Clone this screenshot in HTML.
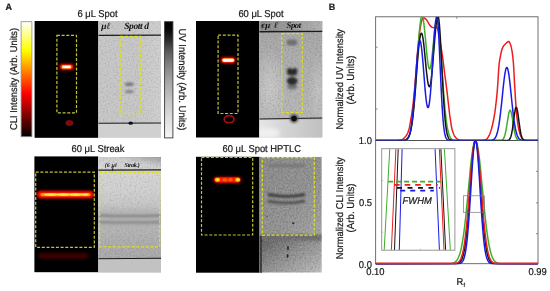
<!DOCTYPE html>
<html><head><meta charset="utf-8">
<style>
html,body{margin:0;padding:0;background:#fff;}
body{width:550px;height:291px;overflow:hidden;}
svg{display:block;}
text{font-family:"Liberation Sans",sans-serif;fill:#1a1a1a;stroke:#1a1a1a;stroke-width:0.22px;text-rendering:geometricPrecision;}
.hw{stroke:none;}
.hw{font-family:"Liberation Serif",serif;font-style:italic;font-weight:bold;fill:#111;}
</style></head>
<body>
<svg width="550" height="291" viewBox="0 0 550 291">
<defs>
  <linearGradient id="hot" x1="0" y1="1" x2="0" y2="0">
    <stop offset="0" stop-color="#000"/>
    <stop offset="0.375" stop-color="#f00"/>
    <stop offset="0.75" stop-color="#ff0"/>
    <stop offset="1" stop-color="#fff"/>
  </linearGradient>
  <linearGradient id="grayc" x1="0" y1="0" x2="0" y2="1">
    <stop offset="0" stop-color="#000"/>
    <stop offset="0.07" stop-color="#080808"/>
    <stop offset="0.17" stop-color="#303030"/>
    <stop offset="0.26" stop-color="#5c5c5c"/>
    <stop offset="0.36" stop-color="#7e7e7e"/>
    <stop offset="0.5" stop-color="#a2a2a2"/>
    <stop offset="0.68" stop-color="#c6c6c6"/>
    <stop offset="0.85" stop-color="#e0e0e0"/>
    <stop offset="1" stop-color="#f6f6f6"/>
  </linearGradient>
  <filter id="b1" x="-50%" y="-50%" width="200%" height="200%"><feGaussianBlur stdDeviation="1"/></filter>
  <filter id="b2" x="-50%" y="-50%" width="200%" height="200%"><feGaussianBlur stdDeviation="2"/></filter>
  <filter id="b08" x="-50%" y="-50%" width="200%" height="200%"><feGaussianBlur stdDeviation="0.8"/></filter>
  <filter id="b05" x="-50%" y="-50%" width="200%" height="200%"><feGaussianBlur stdDeviation="0.5"/></filter>
  <filter id="b04" x="-50%" y="-50%" width="200%" height="200%"><feGaussianBlur stdDeviation="0.4"/></filter>
  <filter id="b03" x="-50%" y="-50%" width="200%" height="200%"><feGaussianBlur stdDeviation="0.3"/></filter>
  <filter id="b07" x="-50%" y="-50%" width="200%" height="200%"><feGaussianBlur stdDeviation="0.7"/></filter>
  <filter id="nd" x="0" y="0" width="100%" height="100%">
    <feTurbulence type="fractalNoise" baseFrequency="0.6" numOctaves="2" seed="3"/>
    <feColorMatrix type="matrix" values="0 0 0 0 0  0 0 0 0 0  0 0 0 0 0  0.9 0 0 0 -0.45"/>
  </filter>
  <filter id="nl" x="0" y="0" width="100%" height="100%">
    <feTurbulence type="fractalNoise" baseFrequency="0.6" numOctaves="2" seed="3"/>
    <feColorMatrix type="matrix" values="0 0 0 0 1  0 0 0 0 1  0 0 0 0 1  -0.9 0 0 0 0.45"/>
  </filter>
  <clipPath id="clipTop"><rect x="375.6" y="16.8" width="162.4" height="123.7"/></clipPath>
  <clipPath id="clipBot"><rect x="375.6" y="140" width="162.4" height="124.5"/></clipPath>
  <clipPath id="cTL"><rect x="98.3" y="21" width="62.7" height="116.8"/></clipPath>
  <clipPath id="cTR"><rect x="259.3" y="21" width="63.2" height="116.5"/></clipPath>
  <clipPath id="cBL"><rect x="98.2" y="157" width="62.8" height="115.5"/></clipPath>
  <clipPath id="cBR"><rect x="259.5" y="156.8" width="62.3" height="115.9"/></clipPath>
</defs>
<rect width="550" height="291" fill="#fff"/>

<!-- ===== Panel labels ===== -->
<text transform="translate(5.6,9.8) scale(1,1.03)" font-size="9" font-weight="bold">A</text>
<text transform="translate(328.8,9.8) scale(1,1.03)" font-size="9" font-weight="bold">B</text>

<!-- ===== Titles ===== -->
<text transform="translate(97.5,16.5) scale(1,1.06)" font-size="9.4" text-anchor="middle">6 μL Spot</text>
<text transform="translate(261,16.5) scale(1,1.06)" font-size="9.4" text-anchor="middle">60 μL Spot</text>
<text transform="translate(98,151.9) scale(1,1.06)" font-size="9.4" text-anchor="middle">60 μL Streak</text>
<text transform="translate(261.8,151.9) scale(1,1.06)" font-size="9.4" text-anchor="middle">60 μL Spot HPTLC</text>

<!-- ===== Colorbars & labels ===== -->
<rect x="21.1" y="21.7" width="10.8" height="115" fill="url(#hot)" stroke="#8a8a8a" stroke-width="0.8"/>
<text transform="translate(17.0,78.9) rotate(-90) scale(1,1.06)" font-size="9.4" text-anchor="middle">CLI Intensity (Arb. Units)</text>
<rect x="164.6" y="21.7" width="8.3" height="116.2" fill="url(#grayc)" stroke="#3a3a3a" stroke-width="0.9"/>
<text transform="translate(178.7,79.4) rotate(90) scale(1,1.06)" font-size="9.5" text-anchor="middle">UV Intensity (Arb. Units)</text>

<!-- ===== TL: CLI image ===== -->
<rect x="34.6" y="21" width="63.7" height="116.8" fill="#000"/>
<rect x="58.7" y="63.3" width="15.8" height="7.3" rx="3.6" fill="#a00000" filter="url(#b1)"/>
<rect x="60.3" y="64.5" width="12.6" height="4.9" rx="2.4" fill="#ff2200" filter="url(#b05)"/>
<rect x="61.7" y="65.3" width="9.7" height="3.3" rx="1.6" fill="#ffe040" filter="url(#b04)"/>
<rect x="62.6" y="66" width="7.9" height="2" rx="1" fill="#fffff0" filter="url(#b03)"/>
<ellipse cx="69.4" cy="123" rx="4" ry="3" fill="#7a0808" filter="url(#b07)"/>
<rect x="56.9" y="35.3" width="19.6" height="77.6" fill="none" stroke="#c4c43a" stroke-width="1.2" stroke-dasharray="3 1.7"/>

<!-- ===== TL: UV photo ===== -->
<defs>
  <linearGradient id="tlg" x1="0" y1="0" x2="1" y2="0">
    <stop offset="0" stop-color="#c6c6c6"/>
    <stop offset="0.6" stop-color="#c6c6c6"/>
    <stop offset="1" stop-color="#cecece"/>
  </linearGradient>
</defs>
<g clip-path="url(#cTL)">
  <rect x="98.3" y="21" width="62.7" height="116.5" fill="url(#tlg)"/>
  <rect x="98.3" y="21" width="62.7" height="116.5" filter="url(#nd)" opacity="0.35"/>
  <rect x="98.3" y="21" width="62.7" height="116.5" filter="url(#nl)" opacity="0.35"/>
  <text class="hw" x="101.2" y="29.4" font-size="9.5">μℓ</text>
  <text class="hw" x="124.2" y="28.6" font-size="9.5" letter-spacing="-0.4">Spott d</text>
  <line x1="98.3" y1="35.4" x2="161" y2="35.2" stroke="#1a1a1a" stroke-width="1.2"/>
  <g filter="url(#b1)">
    <ellipse cx="129.3" cy="84.2" rx="4.6" ry="1.7" fill="#6e6e6e"/>
    <ellipse cx="129.3" cy="91.6" rx="4.6" ry="1.7" fill="#808080"/>
  </g>
  <rect x="98.3" y="123.6" width="62.7" height="14.4" fill="#d0d0d0"/>
  <line x1="98.3" y1="123.3" x2="161" y2="123.0" stroke="#1a1a1a" stroke-width="1.1"/>
  <ellipse cx="130.7" cy="123.2" rx="2.2" ry="1.6" fill="#111" filter="url(#b07)"/>
  <rect x="120.3" y="36.4" width="20" height="77.2" fill="none" stroke="#dede20" stroke-width="1.2" stroke-dasharray="3 1.7"/>
</g>

<!-- ===== TR: CLI image ===== -->
<rect x="196" y="21" width="63.3" height="116.5" fill="#000"/>
<rect x="220.2" y="56.6" width="16" height="7.2" rx="3.6" fill="#a00000" filter="url(#b1)"/>
<rect x="221.5" y="57.7" width="13.4" height="5" rx="2.5" fill="#ff2200" filter="url(#b05)"/>
<rect x="222.3" y="58.4" width="11.8" height="3.5" rx="1.7" fill="#ffe860" filter="url(#b04)"/>
<rect x="223" y="59" width="10.4" height="2.3" rx="1.1" fill="#ffffff" filter="url(#b03)"/>
<ellipse cx="229.1" cy="119.2" rx="4.9" ry="3.5" fill="none" stroke="#a80c0c" stroke-width="1.8" filter="url(#b05)"/>
<rect x="218.1" y="35.2" width="19.9" height="78.3" fill="none" stroke="#c4c43a" stroke-width="1.2" stroke-dasharray="3 1.7"/>

<!-- ===== TR: UV photo ===== -->
<defs>
  <linearGradient id="trg" x1="0" y1="0" x2="0" y2="1">
    <stop offset="0" stop-color="#a4a4a4"/>
    <stop offset="0.5" stop-color="#b0b0b0"/>
    <stop offset="1" stop-color="#b8b8b8"/>
  </linearGradient>
  <linearGradient id="trh" x1="0" y1="0" x2="1" y2="0">
    <stop offset="0" stop-color="#8c8c8c"/>
    <stop offset="0.5" stop-color="#9a9a9a"/>
    <stop offset="1" stop-color="#b0b0b0"/>
  </linearGradient>
  <linearGradient id="trb" x1="0" y1="0" x2="1" y2="0">
    <stop offset="0" stop-color="#e6e6e6"/>
    <stop offset="0.35" stop-color="#d6d6d6"/>
    <stop offset="1" stop-color="#c0c0c0"/>
  </linearGradient>
  <radialGradient id="trl" cx="0.5" cy="0.5" r="0.5">
    <stop offset="0" stop-color="#cacaca" stop-opacity="0.9"/>
    <stop offset="1" stop-color="#cacaca" stop-opacity="0"/>
  </radialGradient>
</defs>
<g clip-path="url(#cTR)">
  <rect x="259.3" y="21" width="63.2" height="116.5" fill="url(#trg)"/>
  <ellipse cx="270" cy="88" rx="17" ry="40" fill="url(#trl)"/>
  <ellipse cx="318" cy="90" rx="10" ry="38" fill="url(#trl)" opacity="0.7"/>
  <rect x="259.3" y="21" width="63.2" height="10.8" fill="url(#trh)"/>
  <rect x="259.3" y="21" width="63.2" height="116.5" filter="url(#nd)" opacity="0.4"/>
  <rect x="259.3" y="21" width="63.2" height="116.5" filter="url(#nl)" opacity="0.4"/>
  <text class="hw" x="261.3" y="28" font-size="9">ϵμ</text>
  <text class="hw" x="274" y="28" font-size="9">ℓ</text>
  <text class="hw" x="286.5" y="27.6" font-size="8.6" letter-spacing="-0.4">Spot</text>
  <line x1="259.3" y1="31.8" x2="322.5" y2="31.4" stroke="#1a1a1a" stroke-width="1.4"/>
  <g filter="url(#b1)">
    <rect x="286.8" y="39.6" width="10.2" height="5.8" rx="2.2" fill="#707070"/>
    <ellipse cx="292.2" cy="86.5" rx="5" ry="3" fill="#707070"/>
    <ellipse cx="292.2" cy="81" rx="5.4" ry="4" fill="#2c2c2c"/>
    <ellipse cx="292.2" cy="73" rx="5.2" ry="2.8" fill="#303030"/>
    <circle cx="289.6" cy="70.6" r="2.5" fill="#282828"/>
    <circle cx="294.8" cy="70.6" r="2.5" fill="#282828"/>
  </g>
  <rect x="259.3" y="119.5" width="63.2" height="18.5" fill="url(#trb)"/>
  <ellipse cx="268" cy="133" rx="12" ry="5" fill="#f0f0f0" filter="url(#b2)"/>
  <line x1="259.3" y1="119" x2="322.5" y2="118" stroke="#1a1a1a" stroke-width="1"/>
  <circle cx="294" cy="118.5" r="4.4" fill="#555" filter="url(#b1)"/>
  <circle cx="294" cy="118.5" r="2.7" fill="#0a0a0a" filter="url(#b05)"/>
  <rect x="281.8" y="33.6" width="20.5" height="78.9" fill="none" stroke="#dede20" stroke-width="1.2" stroke-dasharray="3 1.7"/>
</g>

<!-- ===== BL: CLI image ===== -->
<rect x="34.4" y="156.4" width="63.8" height="115.8" fill="#000"/>
<rect x="36.6" y="190.5" width="57.2" height="8.2" rx="4" fill="#a80000" filter="url(#b1)"/>
<rect x="38" y="191.8" width="55" height="5.6" rx="2.8" fill="#ff1c00" filter="url(#b08)"/>
<rect x="40.5" y="193" width="50" height="3.2" rx="1.6" fill="#ff9800" filter="url(#b05)"/>
<g fill="#ffe840" filter="url(#b05)">
  <ellipse cx="51" cy="194.6" rx="7" ry="1.3"/>
  <ellipse cx="63.5" cy="194.6" rx="6.5" ry="1.3"/>
  <ellipse cx="75.5" cy="194.6" rx="6.5" ry="1.3"/>
  <ellipse cx="85" cy="194.6" rx="3.5" ry="1.1"/>
</g>
<rect x="38.5" y="252.8" width="50" height="6.2" rx="3" fill="#380202" filter="url(#b1)"/>
<rect x="35.7" y="172.1" width="58.6" height="75.2" fill="none" stroke="#c4c43a" stroke-width="1.2" stroke-dasharray="3 1.7"/>

<!-- ===== BL: UV photo ===== -->
<defs>
  <linearGradient id="blg" x1="0" y1="0" x2="0" y2="1">
    <stop offset="0" stop-color="#d8d8d8"/>
    <stop offset="0.3" stop-color="#cfcfcf"/>
    <stop offset="0.55" stop-color="#bababa"/>
    <stop offset="0.75" stop-color="#acacac"/>
    <stop offset="0.88" stop-color="#a9a9a9"/>
    <stop offset="1" stop-color="#b4b4b4"/>
  </linearGradient>
  <linearGradient id="blh" x1="0" y1="1" x2="1" y2="0">
    <stop offset="0" stop-color="#dadada"/>
    <stop offset="0.6" stop-color="#cdcdcd"/>
    <stop offset="1" stop-color="#9c9c9c"/>
  </linearGradient>
</defs>
<g clip-path="url(#cBL)">
  <rect x="98.2" y="157" width="62.8" height="115.5" fill="url(#blg)"/>
  <rect x="98.2" y="157" width="62.8" height="13" fill="url(#blh)"/>
  <rect x="98.2" y="157" width="62.8" height="115.5" filter="url(#nd)" opacity="0.35"/>
  <rect x="98.2" y="157" width="62.8" height="115.5" filter="url(#nl)" opacity="0.35"/>
  <text class="hw" x="104.8" y="167.2" font-size="6">(6</text>
  <text class="hw" x="111.5" y="167.2" font-size="6">μℓ</text>
  <text class="hw" x="124.6" y="167.2" font-size="6" letter-spacing="-0.3">Strak.)</text>
  <line x1="113.3" y1="166" x2="112.2" y2="171" stroke="#222" stroke-width="0.9"/>
  <line x1="98.2" y1="170.1" x2="161" y2="169.9" stroke="#1a1a1a" stroke-width="1.2"/>
  <rect x="98.2" y="209" width="62.8" height="18" fill="#a8a8a8" opacity="0.5" filter="url(#b2)"/>
  <g filter="url(#b1)">
    <path d="M98.2,214.2 Q130,215.2 161,214.2 L161,216.8 Q130,217.8 98.2,216.8 Z" fill="#868686"/>
    <path d="M98.2,220.7 Q130,221.7 161,220.7 L161,223.3 Q130,224.3 98.2,223.3 Z" fill="#8a8a8a"/>
  </g>
  <rect x="98.2" y="259" width="62.8" height="14" fill="#c2c2c2"/>
  <line x1="98.2" y1="258.8" x2="161" y2="258.3" stroke="#1a1a1a" stroke-width="1.1"/>
  <rect x="99.6" y="172.3" width="60.1" height="74.5" fill="none" stroke="#dede20" stroke-width="1.2" stroke-dasharray="3 1.7"/>
</g>

<!-- ===== BR: CLI image ===== -->
<rect x="196" y="156.8" width="63.5" height="115.9" fill="#000"/>
<rect x="213.3" y="176.4" width="28" height="6.8" rx="3.4" fill="#a00000" filter="url(#b08)"/>
<rect x="214.2" y="177.2" width="26.2" height="5.2" rx="2.6" fill="#ff1800" filter="url(#b05)"/>
<ellipse cx="224.8" cy="179.8" rx="2.6" ry="1.6" fill="#ff5a00" filter="url(#b05)"/>
<ellipse cx="230.6" cy="179.8" rx="2.2" ry="1.5" fill="#ff6a00" filter="url(#b05)"/>
<ellipse cx="217.5" cy="179.8" rx="2.6" ry="2" fill="#ffc000" filter="url(#b05)"/>
<ellipse cx="237.7" cy="179.8" rx="2.6" ry="2" fill="#ffc000" filter="url(#b05)"/>
<ellipse cx="217.5" cy="179.8" rx="1.3" ry="0.9" fill="#fff070" filter="url(#b03)"/>
<ellipse cx="237.7" cy="179.8" rx="1.3" ry="0.9" fill="#fff070" filter="url(#b03)"/>
<rect x="201.5" y="157.4" width="51.2" height="77.6" fill="none" stroke="#c4c43a" stroke-width="1.2" stroke-dasharray="3 1.7"/>

<!-- ===== BR: UV photo ===== -->
<defs>
  <linearGradient id="bru" x1="0" y1="0" x2="1" y2="1">
    <stop offset="0" stop-color="#8a8a8a"/>
    <stop offset="0.6" stop-color="#929292"/>
    <stop offset="1" stop-color="#a4a4a4"/>
  </linearGradient>
  <linearGradient id="brg" x1="0" y1="0" x2="1" y2="1">
    <stop offset="0" stop-color="#5a5a5a"/>
    <stop offset="0.45" stop-color="#8a8a8a"/>
    <stop offset="1" stop-color="#bcbcbc"/>
  </linearGradient>
</defs>
<g clip-path="url(#cBR)">
  <rect x="259.5" y="156.8" width="62.3" height="79" fill="url(#bru)"/>
  <rect x="259.5" y="235.5" width="62.3" height="37.2" fill="url(#brg)"/>
  <rect x="259.5" y="234.5" width="62.3" height="6" fill="#6e6e6e" filter="url(#b1)"/>
  <rect x="259.5" y="236" width="2.5" height="37" fill="#3c3c3c" filter="url(#b07)"/>
  <rect x="259.5" y="156.8" width="62.3" height="115.9" filter="url(#nd)" opacity="0.5"/>
  <rect x="259.5" y="156.8" width="62.3" height="115.9" filter="url(#nl)" opacity="0.5"/>
  <g filter="url(#b1)">
    <rect x="268" y="164.3" width="37" height="2.6" fill="#747474"/>
    <path d="M268,193 Q286.5,197 305,193 L305,196 Q286.5,199.5 268,196 Z" fill="#383838"/>
    <path d="M268,199.8 Q286.5,203.6 305,199.8 L305,202.6 Q286.5,206 268,202.6 Z" fill="#4c4c4c"/>
  </g>
  <g fill="#2a2a2a" filter="url(#b05)">
    <ellipse cx="288" cy="248" rx="0.9" ry="2.2"/>
    <ellipse cx="287.5" cy="256" rx="1" ry="2"/>
    <ellipse cx="293.3" cy="223.2" rx="1.2" ry="0.9"/>
    <ellipse cx="267" cy="216.5" rx="0.6" ry="0.6"/>
  </g>
  <rect x="262.3" y="157.6" width="52" height="77.5" fill="none" stroke="#dede20" stroke-width="1.2" stroke-dasharray="3 1.7"/>
</g>

<!-- ===== Panel B axes ===== -->
<rect x="375.6" y="16.75" width="162.4" height="246.9" fill="none" stroke="#707070" stroke-width="1"/>
<line x1="375.6" y1="140.5" x2="538" y2="140.5" stroke="#505050" stroke-width="1"/>
<g stroke="#707070" stroke-width="0.8">
  <line x1="375.6" y1="47.2" x2="377.6" y2="47.2"/>
  <line x1="375.6" y1="109" x2="377.6" y2="109"/>
  <line x1="456.8" y1="16.75" x2="456.8" y2="18.75"/>
  <line x1="538" y1="171.3" x2="536" y2="171.3"/>
  <line x1="538" y1="202.9" x2="536" y2="202.9"/>
  <line x1="538" y1="233.7" x2="536" y2="233.7"/>
</g>
<text transform="translate(342.9,79.25) rotate(-90) scale(1,1.06)" font-size="9.4" text-anchor="middle">Normalized UV Intensity</text>
<text transform="translate(353.9,79.9) rotate(-90) scale(1,1.06)" font-size="9.7" text-anchor="middle">(Arb. Units)</text>
<text transform="translate(342.9,208.3) rotate(-90) scale(1,1.06)" font-size="9.4" text-anchor="middle">Normalized CLI Intensity</text>
<text transform="translate(353.9,207.9) rotate(-90) scale(1,1.06)" font-size="9.7" text-anchor="middle">(Arb. Units)</text>
<text transform="translate(371.9,143.9) scale(1,1.06)" font-size="9.4" text-anchor="end">1.0</text>
<text transform="translate(372.0,205.7) scale(1,1.06)" font-size="9.4" text-anchor="end">0.5</text>
<text transform="translate(371.9,267.6) scale(1,1.06)" font-size="9.4" text-anchor="end">0.0</text>
<text transform="translate(375.3,275.2) scale(1,1.06)" font-size="9.4" text-anchor="middle">0.10</text>
<text transform="translate(537.6,275.2) scale(1,1.06)" font-size="9.4" text-anchor="middle">0.99</text>
<text transform="translate(456.6,285.2) scale(1,1.06)" font-size="9.4">R<tspan font-size="5.5" dy="1.6">f</tspan></text>

<!-- curves -->
<polyline clip-path="url(#clipTop)" points="375.6,140.50 396.9,140.45 400.6,140.04 401.9,139.79 402.9,139.24 404.1,138.12 405.6,136.43 406.4,135.38 407.1,134.08 407.9,132.49 408.6,130.56 408.9,129.83 409.1,128.94 409.4,127.86 409.6,126.63 410.1,123.80 411.4,116.04 411.9,112.78 412.4,109.28 412.9,105.49 413.4,101.35 413.6,99.12 413.9,96.67 414.1,94.03 414.4,91.22 414.9,85.27 415.9,73.10 416.4,66.75 416.9,60.27 417.1,57.11 417.4,54.09 417.6,51.24 418.4,43.35 418.9,38.37 419.1,36.04 419.4,33.87 419.6,31.87 419.9,30.09 420.4,27.00 420.9,24.14 421.1,22.87 421.4,21.75 421.6,20.83 421.9,20.13 422.4,19.30 423.1,18.38 423.6,18.05 424.1,18.01 424.9,18.34 426.1,19.35 426.9,20.33 427.6,21.49 428.9,23.93 429.9,25.35 430.6,26.16 431.6,26.96 432.6,27.41 433.6,27.64 434.4,27.50 436.1,26.91 436.4,26.90 436.6,27.03 436.9,27.32 437.4,28.20 437.6,28.74 437.9,29.54 438.1,30.59 438.4,31.82 439.1,35.85 439.4,37.29 440.1,42.07 440.6,45.21 441.4,49.42 441.9,52.21 442.1,53.71 442.4,55.32 442.6,57.07 443.1,60.89 443.9,67.09 444.6,73.32 445.4,79.16 446.9,90.58 447.4,94.55 447.6,96.63 448.1,101.08 448.9,107.97 449.4,112.30 449.6,114.28 450.4,119.61 450.9,122.98 451.1,124.55 451.4,126.02 451.6,127.37 451.9,128.58 452.1,129.62 452.6,131.32 453.4,133.53 453.9,134.76 454.4,135.78 454.9,136.59 456.1,138.04 457.4,139.13 458.4,139.71 460.6,140.35 462.4,140.50 481.6,140.45 484.6,140.08 485.9,139.80 486.6,139.24 487.4,138.31 488.4,136.70 489.4,134.87 489.9,133.72 490.6,131.63 491.4,129.21 492.1,126.51 492.6,124.50 493.1,122.24 493.6,119.73 494.1,116.96 494.6,113.92 494.9,112.28 495.1,110.52 495.4,108.62 495.6,106.61 495.9,104.47 496.1,102.22 496.4,99.86 496.9,94.84 497.4,89.44 497.6,86.21 497.9,82.47 498.4,74.41 498.6,70.55 498.9,67.10 499.1,64.29 499.4,62.23 499.6,60.50 499.9,58.98 500.4,56.35 501.1,52.67 501.4,51.53 501.6,50.50 501.9,49.62 502.4,48.28 502.9,47.18 503.6,45.88 504.4,44.91 505.6,43.69 507.6,41.91 508.4,41.53 508.6,41.50 508.9,41.57 509.1,41.78 509.6,42.51 510.4,44.12 510.6,44.73 510.9,45.51 511.1,46.49 511.4,47.63 511.6,48.93 511.9,50.37 512.4,53.54 512.6,55.34 512.9,57.49 513.1,59.98 513.4,62.80 513.6,66.15 513.9,70.32 514.1,75.01 514.6,84.75 514.9,89.20 515.6,101.30 515.9,105.10 516.1,108.60 516.4,111.68 516.6,114.26 516.9,116.60 517.1,118.78 517.4,120.81 517.6,122.68 517.9,124.39 518.1,125.95 518.4,127.36 518.9,129.80 519.4,131.95 519.9,133.78 520.1,134.55 520.4,135.21 521.4,137.28 522.1,138.55 522.9,139.47 523.4,139.82 525.4,140.35 527.1,140.50 537.9,140.50" fill="none" stroke="#ee1c1c" stroke-width="1.5" stroke-linejoin="round"/>
<polyline clip-path="url(#clipTop)" points="375.6,140.50 402.4,140.44 404.6,140.19 405.9,139.78 406.9,139.17 407.6,138.43 408.4,137.35 408.9,136.39 409.4,135.20 409.9,133.72 410.4,131.91 410.9,129.74 411.1,128.49 411.4,127.14 411.6,125.67 411.9,124.08 412.1,122.37 412.4,120.53 412.6,118.56 412.9,116.45 413.1,114.20 413.4,111.82 413.6,109.30 413.9,106.64 414.1,103.85 414.4,100.92 414.6,97.87 414.9,94.70 415.1,91.42 415.6,84.54 416.1,77.34 417.6,54.97 418.1,47.74 418.4,44.25 418.6,40.89 418.9,37.66 419.1,34.59 419.4,31.69 419.6,29.00 419.9,26.51 420.1,24.26 420.4,22.25 420.6,20.50 420.9,19.01 421.1,17.80 421.4,17.25 422.6,17.25 422.9,17.52 423.1,18.65 423.4,20.05 423.6,21.69 423.9,23.57 424.1,25.65 424.4,27.91 424.6,30.33 424.9,32.88 425.4,38.25 426.4,49.24 426.6,51.87 426.9,54.39 427.1,56.78 427.4,59.02 427.6,61.08 427.9,62.93 428.1,64.57 428.4,65.97 428.6,67.11 428.9,68.00 429.1,68.62 429.4,68.96 429.6,69.02 429.9,68.80 430.1,68.30 430.4,67.54 430.6,66.52 430.9,65.24 431.1,63.73 431.4,62.01 431.6,60.08 431.9,57.97 432.1,55.72 432.4,53.33 432.9,48.27 433.9,37.82 434.4,32.90 434.6,30.61 434.9,28.48 435.1,26.53 435.4,24.77 435.6,23.24 435.9,21.95 436.1,20.92 436.4,20.17 436.6,19.69 436.9,19.51 437.1,19.63 437.4,20.04 437.6,20.74 437.9,21.74 438.1,23.01 438.4,24.57 438.6,26.39 438.9,28.46 439.1,30.78 439.4,33.33 439.6,36.08 439.9,39.02 440.1,42.13 440.4,45.40 440.6,48.79 441.1,55.87 442.6,78.01 443.1,85.18 443.6,92.04 443.9,95.32 444.1,98.48 444.4,101.53 444.6,104.45 444.9,107.23 445.1,109.88 445.4,112.40 445.6,114.77 445.9,117.00 446.1,119.10 446.4,121.06 446.6,122.89 446.9,124.58 447.1,126.15 447.4,127.60 447.6,128.94 447.9,130.16 448.4,132.29 448.9,134.05 449.4,135.49 449.9,136.65 450.4,137.57 451.1,138.59 451.9,139.28 452.9,139.86 454.4,140.27 457.1,140.47 500.1,140.45 501.6,140.20 502.4,139.84 503.1,139.17 503.6,138.45 504.1,137.45 504.6,136.10 504.9,135.27 505.1,134.34 505.4,133.31 505.6,132.17 506.1,129.57 506.6,126.62 507.9,118.55 508.4,115.56 508.6,114.23 508.9,113.06 509.1,112.05 509.4,111.25 509.6,110.66 509.9,110.30 510.1,110.18 510.4,110.30 510.6,110.66 510.9,111.25 511.1,112.05 511.4,113.06 511.6,114.23 511.9,115.56 512.4,118.55 513.6,126.62 514.1,129.57 514.6,132.17 514.9,133.31 515.1,134.34 515.4,135.27 515.6,136.10 516.1,137.45 516.6,138.45 517.1,139.17 517.9,139.84 518.9,140.27 520.6,140.47 537.9,140.50" fill="none" stroke="#3fae29" stroke-width="1.5" stroke-linejoin="round"/>
<polyline clip-path="url(#clipTop)" points="375.6,140.50 402.4,140.44 404.6,140.18 405.9,139.76 406.9,139.12 407.6,138.35 408.4,137.25 408.9,136.26 409.4,135.04 409.9,133.53 410.4,131.70 410.9,129.50 411.1,128.25 411.4,126.90 411.6,125.43 411.9,123.85 412.1,122.15 412.4,120.33 412.6,118.39 412.9,116.33 413.1,114.14 413.4,111.83 413.6,109.39 413.9,106.84 414.1,104.17 414.4,101.40 414.9,95.54 415.4,89.34 416.1,79.61 417.1,66.44 417.6,60.08 417.9,57.03 418.1,54.08 418.4,51.26 418.6,48.59 418.9,46.08 419.1,43.76 419.4,41.63 419.6,39.72 419.9,38.03 420.1,36.58 420.4,35.38 420.6,34.44 420.9,33.76 421.1,33.35 421.4,33.20 421.6,33.32 421.9,33.71 422.1,34.36 422.4,35.25 422.6,36.39 422.9,37.76 423.1,39.34 423.4,41.12 423.6,43.08 423.9,45.21 424.1,47.47 424.6,52.33 426.1,67.84 426.6,72.67 426.9,74.91 427.1,77.01 427.4,78.95 427.6,80.70 427.9,82.26 428.1,83.61 428.4,84.72 428.6,85.60 428.9,86.23 429.1,86.60 429.4,86.72 429.6,86.56 429.9,86.14 430.1,85.45 430.4,84.49 430.6,83.28 430.9,81.82 431.1,80.11 431.4,78.18 431.6,76.03 431.9,73.67 432.1,71.14 432.4,68.44 432.6,65.59 433.1,59.56 434.4,43.65 434.9,37.52 435.1,34.60 435.4,31.83 435.6,29.23 435.9,26.81 436.1,24.60 436.4,22.61 436.6,20.88 436.9,19.42 437.1,18.23 437.4,17.33 437.9,17.25 438.4,17.25 438.6,18.11 438.9,19.71 439.1,21.82 439.4,24.39 439.6,27.42 439.9,30.85 440.1,34.64 440.4,38.76 440.6,43.14 440.9,47.75 441.1,52.54 441.6,62.42 442.4,77.34 442.6,82.17 442.9,86.87 443.1,91.41 443.4,95.77 443.6,99.92 443.9,103.85 444.1,107.54 444.4,110.99 444.6,114.20 444.9,117.17 445.1,119.89 445.4,122.37 445.6,124.63 445.9,126.66 446.1,128.49 446.4,130.13 446.6,131.58 446.9,132.86 447.1,133.99 447.4,134.97 447.6,135.83 447.9,136.57 448.4,137.76 448.9,138.62 449.4,139.23 450.1,139.82 451.1,140.22 452.9,140.45 506.6,140.46 508.1,140.24 508.9,139.89 509.4,139.47 509.9,138.82 510.4,137.86 510.6,137.24 510.9,136.51 511.1,135.66 511.4,134.68 511.6,133.57 511.9,132.32 512.1,130.93 512.4,129.42 512.6,127.78 513.1,124.21 514.1,116.57 514.4,114.75 514.6,113.06 514.9,111.52 515.1,110.17 515.4,109.06 515.6,108.21 515.9,107.63 516.1,107.36 516.4,107.39 516.6,107.73 516.9,108.36 517.1,109.26 517.4,110.43 517.6,111.81 517.9,113.38 518.1,115.11 518.6,118.84 519.4,124.58 519.9,128.12 520.1,129.73 520.4,131.22 520.6,132.58 520.9,133.80 521.1,134.88 521.4,135.84 521.6,136.66 521.9,137.37 522.4,138.48 522.9,139.24 523.4,139.74 524.1,140.17 525.4,140.43 534.6,140.50 537.9,140.50" fill="none" stroke="#141414" stroke-width="1.5" stroke-linejoin="round"/>
<polyline clip-path="url(#clipTop)" points="375.6,140.50 403.1,140.45 405.1,140.21 406.4,139.75 407.1,139.23 407.9,138.40 408.4,137.62 408.9,136.60 409.4,135.30 409.9,133.64 410.1,132.67 410.4,131.59 410.6,130.39 410.9,129.07 411.1,127.62 411.4,126.03 411.6,124.31 411.9,122.44 412.1,120.43 412.4,118.26 412.6,115.95 412.9,113.48 413.1,110.87 413.4,108.12 413.6,105.23 413.9,102.21 414.1,99.07 414.6,92.49 415.4,82.11 416.1,71.62 416.6,64.88 416.9,61.67 417.1,58.60 417.4,55.70 417.6,52.99 417.9,50.49 418.1,48.24 418.4,46.25 418.6,44.55 418.9,43.14 419.1,42.04 419.4,41.26 419.6,40.82 419.9,40.70 420.1,40.92 420.4,41.45 420.6,42.31 420.9,43.47 421.1,44.93 421.4,46.67 421.6,48.67 421.9,50.90 422.1,53.36 422.4,56.01 422.6,58.82 422.9,61.77 423.4,67.97 424.4,80.72 424.9,86.81 425.1,89.69 425.4,92.43 425.6,95.00 425.9,97.38 426.1,99.55 426.4,101.49 426.6,103.19 426.9,104.63 427.1,105.80 427.4,106.69 427.6,107.29 427.9,107.60 428.1,107.60 428.4,107.29 428.6,106.67 428.9,105.75 429.1,104.52 429.4,102.99 429.6,101.16 429.9,99.05 430.1,96.66 430.4,94.01 430.6,91.11 430.9,87.98 431.1,84.64 431.4,81.11 431.6,77.41 431.9,73.58 432.4,65.61 433.4,49.36 433.6,45.44 433.9,41.63 434.1,37.98 434.4,34.53 434.6,31.30 434.9,28.33 435.1,25.64 435.4,23.27 435.6,21.23 435.9,19.56 436.1,18.25 436.4,17.34 436.9,17.25 437.1,17.25 437.4,18.43 437.6,20.31 437.9,22.84 438.1,25.97 438.4,29.66 438.6,33.85 438.9,38.46 439.1,43.43 439.4,48.69 439.6,54.16 440.6,76.73 440.9,82.22 441.1,87.55 441.4,92.67 441.6,97.53 441.9,102.13 442.1,106.43 442.4,110.42 442.6,114.09 442.9,117.45 443.1,120.50 443.4,123.24 443.6,125.69 443.9,127.87 444.1,129.79 444.4,131.47 444.6,132.92 444.9,134.18 445.1,135.27 445.4,136.19 445.6,136.97 445.9,137.62 446.4,138.62 446.9,139.30 447.6,139.92 448.6,140.29 450.6,140.48 489.6,140.45 491.9,140.21 493.1,139.79 494.1,139.14 494.9,138.35 495.6,137.20 496.1,136.18 496.6,134.91 497.1,133.35 497.6,131.47 498.1,129.23 498.6,126.62 498.9,125.17 499.1,123.61 499.6,120.20 500.1,116.40 500.6,112.24 501.1,107.77 501.9,100.63 503.1,88.43 503.6,83.80 503.9,81.61 504.1,79.51 504.4,77.54 504.6,75.71 504.9,74.03 505.1,72.52 505.4,71.18 505.6,70.04 505.9,69.10 506.1,68.37 506.4,67.85 506.6,67.56 506.9,67.49 507.1,67.65 507.4,68.03 507.6,68.63 507.9,69.45 508.1,70.47 508.4,71.69 508.6,73.10 508.9,74.68 509.1,76.43 509.4,78.32 509.6,80.34 510.1,84.70 510.6,89.38 512.1,104.01 512.6,108.68 513.1,113.10 513.6,117.19 514.1,120.91 514.4,122.63 514.6,124.24 514.9,125.76 515.4,128.49 515.9,130.84 516.4,132.82 516.9,134.47 517.4,135.82 517.9,136.92 518.6,138.15 519.4,139.01 520.4,139.72 521.6,140.17 523.6,140.43 537.9,140.50" fill="none" stroke="#1a1ae6" stroke-width="1.5" stroke-linejoin="round"/>
<polyline clip-path="url(#clipBot)" points="375.6,263.90 447.9,263.85 451.1,263.60 452.9,263.21 454.4,262.56 455.4,261.86 456.4,260.86 457.1,259.85 457.9,258.57 458.6,256.97 459.4,254.99 459.9,253.43 460.4,251.67 460.9,249.67 461.4,247.44 461.9,244.95 462.4,242.19 462.9,239.16 463.4,235.86 463.9,232.27 464.4,228.40 464.9,224.27 465.4,219.87 465.9,215.24 466.6,207.91 467.4,200.20 469.4,178.96 470.1,171.25 470.6,166.35 471.1,161.72 471.6,157.41 471.9,155.39 472.1,153.48 472.4,151.67 472.6,149.99 472.9,148.42 473.1,146.98 473.4,145.68 473.6,144.51 473.9,143.49 474.1,142.61 474.4,141.88 474.6,141.30 474.9,140.88 475.1,140.61 475.4,140.50 475.6,140.55 475.9,140.75 476.1,141.12 476.4,141.63 476.6,142.30 476.9,143.12 477.1,144.09 477.4,145.20 477.6,146.45 477.9,147.83 478.1,149.35 478.4,150.99 478.6,152.74 478.9,154.61 479.4,158.66 479.9,163.08 480.4,167.80 480.9,172.76 481.6,180.54 483.4,199.15 484.1,206.90 484.9,214.29 485.4,218.97 485.9,223.41 486.4,227.60 486.9,231.52 487.4,235.16 487.9,238.52 488.4,241.61 488.9,244.42 489.4,246.96 489.9,249.24 490.4,251.29 490.9,253.10 491.4,254.70 492.1,256.73 492.9,258.38 493.6,259.70 494.4,260.74 495.4,261.77 496.6,262.64 498.1,263.26 500.1,263.66 503.9,263.87 537.9,263.90" fill="none" stroke="#3fae29" stroke-width="1.5" stroke-linejoin="round"/>
<polyline clip-path="url(#clipBot)" points="375.6,263.90 454.4,263.85 456.9,263.63 458.4,263.20 459.4,262.64 460.1,261.99 460.9,261.05 461.6,259.74 462.1,258.60 462.6,257.22 463.1,255.55 463.6,253.55 464.1,251.19 464.4,249.86 464.6,248.42 464.9,246.88 465.1,245.23 465.4,243.46 465.6,241.57 465.9,239.56 466.1,237.43 466.4,235.18 466.6,232.81 466.9,230.31 467.1,227.70 467.4,224.96 467.6,222.12 467.9,219.16 468.4,212.96 468.9,206.40 469.4,199.58 470.9,178.54 471.4,171.75 471.6,168.47 471.9,165.30 472.1,162.24 472.4,159.33 472.6,156.57 472.9,153.99 473.1,151.59 473.4,149.39 473.6,147.42 473.9,145.67 474.1,144.16 474.4,142.90 474.6,141.90 474.9,141.16 475.1,140.70 475.4,140.51 475.6,140.59 475.9,140.94 476.1,141.57 476.4,142.47 476.6,143.62 476.9,145.03 477.1,146.69 477.4,148.58 477.6,150.69 477.9,153.00 478.1,155.52 478.4,158.21 478.6,161.06 478.9,164.06 479.1,167.19 479.6,173.75 480.1,180.62 481.4,198.19 481.9,205.05 482.4,211.67 482.9,217.95 483.1,220.95 483.4,223.84 483.6,226.62 483.9,229.28 484.1,231.82 484.4,234.25 484.6,236.55 484.9,238.72 485.1,240.78 485.4,242.72 485.6,244.53 485.9,246.23 486.1,247.82 486.4,249.30 486.6,250.67 487.1,253.11 487.6,255.18 488.1,256.91 488.6,258.35 489.1,259.53 489.9,260.90 490.6,261.88 491.4,262.57 492.4,263.16 493.9,263.61 496.4,263.85 537.9,263.90" fill="none" stroke="#141414" stroke-width="1.5" stroke-linejoin="round"/>
<polyline clip-path="url(#clipBot)" points="375.6,263.90 452.6,263.85 455.1,263.63 456.6,263.25 457.9,262.63 458.9,261.79 459.6,260.88 460.4,259.64 460.9,258.59 461.4,257.34 461.9,255.84 462.4,254.08 462.9,252.03 463.4,249.64 463.9,246.91 464.4,243.80 464.9,240.30 465.1,238.40 465.4,236.40 465.6,234.29 465.9,232.09 466.4,227.37 466.9,222.27 467.4,216.80 467.9,211.01 468.4,204.95 469.1,195.49 470.4,179.43 470.9,173.18 471.4,167.20 471.6,164.34 471.9,161.58 472.1,158.94 472.4,156.43 472.6,154.07 472.9,151.87 473.1,149.83 473.4,147.97 473.6,146.30 473.9,144.83 474.1,143.56 474.4,142.51 474.6,141.67 474.9,141.05 475.1,140.66 475.4,140.50 475.6,140.57 475.9,140.87 476.1,141.40 476.4,142.14 476.6,143.11 476.9,144.30 477.1,145.69 477.4,147.28 477.6,149.07 477.9,151.03 478.1,153.17 478.4,155.47 478.6,157.92 478.9,160.51 479.1,163.22 479.6,168.96 480.1,175.04 480.9,184.54 482.1,200.58 482.6,206.79 483.1,212.78 483.6,218.48 484.1,223.84 484.6,228.83 484.9,231.18 485.1,233.42 485.4,235.57 485.6,237.61 485.9,239.56 486.1,241.40 486.6,244.78 487.1,247.77 487.6,250.39 488.1,252.68 488.6,254.64 489.1,256.32 489.6,257.74 490.1,258.93 490.9,260.35 491.6,261.40 492.4,262.18 493.4,262.87 494.6,263.39 496.6,263.75 501.1,263.89 537.9,263.90" fill="none" stroke="#ee1c1c" stroke-width="1.5" stroke-linejoin="round"/>
<polyline clip-path="url(#clipBot)" points="375.6,263.90 457.1,263.85 459.4,263.62 460.6,263.20 461.4,262.74 462.1,262.01 462.9,260.91 463.4,259.91 463.9,258.62 464.4,257.01 464.6,256.06 464.9,255.01 465.1,253.84 465.4,252.55 465.6,251.14 465.9,249.60 466.1,247.91 466.4,246.08 466.6,244.10 466.9,241.97 467.1,239.67 467.4,237.21 467.6,234.59 467.9,231.81 468.1,228.87 468.4,225.77 468.6,222.52 468.9,219.12 469.1,215.59 469.4,211.94 469.9,204.30 470.4,196.35 471.4,180.15 471.9,172.28 472.1,168.50 472.4,164.85 472.6,161.37 472.9,158.08 473.1,155.00 473.4,152.17 473.6,149.59 473.9,147.31 474.1,145.33 474.4,143.67 474.6,142.35 474.9,141.38 475.1,140.76 475.4,140.51 475.6,140.62 475.9,141.09 476.1,141.92 476.4,143.10 476.6,144.63 476.9,146.48 477.1,148.65 477.4,151.10 477.6,153.84 477.9,156.82 478.1,160.03 478.4,163.44 478.6,167.02 478.9,170.75 479.4,178.55 480.6,198.76 481.1,206.63 481.4,210.44 481.6,214.14 481.9,217.73 482.1,221.18 482.4,224.49 482.6,227.65 482.9,230.65 483.1,233.50 483.4,236.18 483.6,238.71 483.9,241.07 484.1,243.27 484.4,245.31 484.6,247.20 484.9,248.94 485.1,250.54 485.4,252.01 485.6,253.34 485.9,254.55 486.1,255.65 486.4,256.64 486.9,258.33 487.4,259.67 487.9,260.73 488.4,261.55 489.1,262.44 489.9,263.01 490.9,263.46 492.6,263.79 497.6,263.90 537.9,263.90" fill="none" stroke="#1a1ae6" stroke-width="1.5" stroke-linejoin="round"/>
<line x1="375.6" y1="263.3" x2="457" y2="263.3" stroke="#ee1c1c" stroke-width="1.4"/>
<line x1="494" y1="263.3" x2="538.0" y2="263.3" stroke="#ee1c1c" stroke-width="1.4"/>

<!-- zoom rect -->
<rect x="463.4" y="195.8" width="21" height="16.5" fill="none" stroke="#777" stroke-width="0.7"/>

<!-- inset -->
<rect x="381.7" y="148.7" width="73.2" height="101.5" fill="#fff" stroke="#8a8a8a" stroke-width="0.9"/>
<g stroke="#999" stroke-width="0.6">
  <line x1="381.7" y1="180.5" x2="383.2" y2="180.5"/>
  <line x1="381.7" y1="232.2" x2="383.2" y2="232.2"/>
  <line x1="420.4" y1="250.2" x2="420.4" y2="248.7"/>
</g>
<line x1="389.75" y1="149.2" x2="384.2" y2="249.8" stroke="#3fae29" stroke-width="1"/>
<line x1="395.9" y1="149.2" x2="391.4" y2="249.8" stroke="#ee1c1c" stroke-width="1"/>
<line x1="398.2" y1="149.2" x2="394.5" y2="249.8" stroke="#141414" stroke-width="1"/>
<line x1="402.1" y1="149.2" x2="399.3" y2="249.8" stroke="#1a1ae6" stroke-width="1"/>
<line x1="435.1" y1="149.2" x2="439.4" y2="249.8" stroke="#1a1ae6" stroke-width="1"/>
<line x1="439.4" y1="149.2" x2="444.0" y2="249.8" stroke="#ee1c1c" stroke-width="1"/>
<line x1="440.9" y1="149.2" x2="445.6" y2="249.8" stroke="#141414" stroke-width="1"/>
<line x1="444.4" y1="149.2" x2="450.3" y2="249.8" stroke="#3fae29" stroke-width="1"/>
<line x1="388.1" y1="181.7" x2="443.5" y2="181.7" stroke="#3fae29" stroke-width="1.8" stroke-dasharray="5 3"/>
<line x1="394.2" y1="184.9" x2="437.7" y2="184.9" stroke="#ee1c1c" stroke-width="1.8" stroke-dasharray="5.5 5"/>
<line x1="397.0" y1="187.8" x2="439.8" y2="187.8" stroke="#141414" stroke-width="1.8" stroke-dasharray="5 5.5"/>
<line x1="400.2" y1="190.6" x2="433.9" y2="190.6" stroke="#1a1ae6" stroke-width="1.8" stroke-dasharray="5 5"/>
<text transform="translate(402.6,203.8) scale(1,1.06)" font-size="9.4" font-style="italic" fill="#1a1a1a" stroke="#1a1a1a" stroke-width="0.15">FWHM</text>
</svg>
</body></html>
